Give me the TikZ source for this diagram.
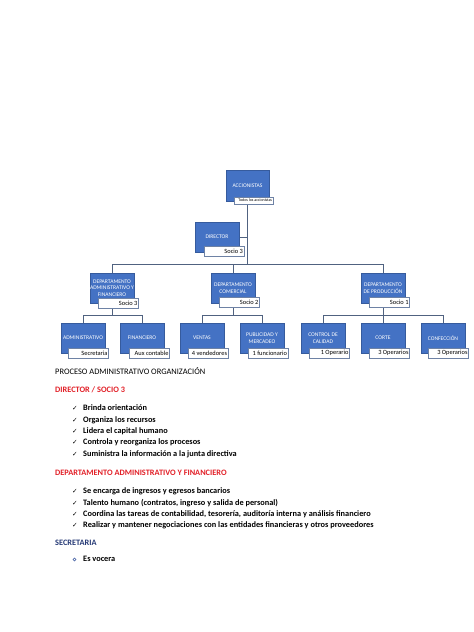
\documentclass[tikz,border=0pt]{standalone}
\usepackage{fontspec}
\setmainfont{Carlito}
\newfontfamily\dejavu{DejaVu Sans}
\usetikzlibrary{backgrounds}
\definecolor{boxblue}{RGB}{68,114,196}
\definecolor{linec}{RGB}{80,98,128}
\definecolor{lblborder}{RGB}{110,130,165}
\definecolor{hred}{RGB}{226,32,40}
\definecolor{hblue}{RGB}{38,58,118}
\definecolor{bulblue}{RGB}{60,90,160}
\newcommand{\bl}[1]{\makebox[42pt][c]{#1}}
\newcommand{\lb}[1]{\makebox[38pt][r]{#1}}
\begin{document}
\begin{tikzpicture}[x=1pt,y=-1pt,
  box/.style={fill=boxblue, draw=boxblue!80!black, line width=0.3pt,
    minimum width=44pt, minimum height=30pt, inner sep=0pt, text=white,
    font=\fontsize{5.6}{6.6}\selectfont, align=center},
  lbl/.style={fill=white, draw=lblborder, line width=0.4pt,
    minimum width=40pt, minimum height=10pt, inner sep=1pt,
    font=\fontsize{6.4}{7}\selectfont},
  conn/.style={draw=linec, line width=0.9pt},
  txt/.style={anchor=base west, inner sep=0pt, font=\fontsize{8.4}{10}\selectfont},
  item/.style={anchor=base west, inner sep=0pt, font=\fontsize{8.3}{10}\selectfont\bfseries},
  chk/.style={anchor=base west, inner sep=0pt, font=\dejavu\fontsize{6.6}{7}\selectfont},
  redh/.style={anchor=base west, inner sep=0pt, text=hred, font=\fontsize{8.3}{10}\selectfont\bfseries},
  blueh/.style={anchor=base west, inner sep=0pt, text=hblue, font=\fontsize{8.3}{10}\selectfont\bfseries}
]
\useasboundingbox (0,0) rectangle (474,632);

% top level
\node[box, minimum width=43pt, minimum height=31pt] (acc) at (247.5,185.5) {\bl{ACCIONISTAS}};
\node[lbl, minimum width=39pt, minimum height=7pt, font=\fontsize{4}{4.2}\selectfont, inner sep=1pt] (accl) at (253.5,200.5) {\makebox[37pt][r]{Todos los accionistas}};

\node[box] (dir) at (217,237) {\bl{DIRECTOR}};
\node[lbl] (dirl) at (224,251) {\lb{Socio 3}};

% departments
\node[box] (d1) at (112,288) {\bl{DEPARTAMENTO}\\\bl{ADMINISTRATIVO Y}\\\bl{FINANCIERO}};
\node[lbl] (d1l) at (118.5,303) {\lb{Socio 3}};
\node[box] (d2) at (233,288) {\bl{DEPARTAMENTO}\\\bl{COMERCIAL}};
\node[lbl] (d2l) at (239.5,302) {\lb{Socio 2}};
\node[box] (d3) at (383,288) {\bl{DEPARTAMENTO}\\\bl{DE PRODUCCIÓN}};
\node[lbl] (d3l) at (389.5,302) {\lb{Socio 1}};

% children
\node[box] (c1) at (83,338) {\bl{ADMINISTRATIVO}};
\node[lbl] (c1l) at (88.5,353) {\lb{Secretaria}};
\node[box] (c2) at (142,338) {\bl{FINANCIERO}};
\node[lbl] (c2l) at (149.5,353) {\lb{Aux contable}};
\node[box] (c3) at (202,338) {\bl{VENTAS}};
\node[lbl] (c3l) at (208,353) {\lb{4 vendedores}};
\node[box] (c4) at (262,338) {\bl{PUBLICIDAD Y}\\\bl{MERCADEO}};
\node[lbl] (c4l) at (268,353) {\lb{1 funcionario}};
\node[box] (c5) at (323,338) {\bl{CONTROL DE}\\\bl{CALIDAD}};
\node[lbl] (c5l) at (329.5,353) {\lb{1 Operario}};
\node[box] (c6) at (383,338) {\bl{CORTE}};
\node[lbl] (c6l) at (389.5,353) {\lb{3 Operarios}};
\node[box] (c7) at (443,338) {\bl{CONFECCIÓN}};
\node[lbl] (c7l) at (448.5,353) {\lb{3 Operarios}};

\coordinate (busM) at (247.5,264);
\coordinate (s1) at (112,315);
\coordinate (s2) at (233,315);
\coordinate (s3) at (383,315);

\begin{scope}[on background layer]
  \fill[white] (0,0) rectangle (474,632);
  \draw[conn] (acc.south) -- (busM);
  \draw[conn] (dir.east) -- (dir.east -| acc.south);
  \draw[conn] (d1.north |- busM) -- (d3.north |- busM);
  \draw[conn] (d1.north |- busM) -- (d1.north);
  \draw[conn] (d2.north |- busM) -- (d2.north);
  \draw[conn] (d3.north |- busM) -- (d3.north);
  \draw[conn] (d1.south) -- (s1);
  \draw[conn] (d2.south) -- (s2);
  \draw[conn] (d3.south) -- (s3);
  \draw[conn] (c1.north |- s1) -- (c2.north |- s1);
  \draw[conn] (c3.north |- s2) -- (c4.north |- s2);
  \draw[conn] (c5.north |- s3) -- (c7.north |- s3);
  \foreach \c/\s in {c1/s1,c2/s1,c3/s2,c4/s2,c5/s3,c6/s3,c7/s3}
    \draw[conn] (\c.north |- \s) -- (\c.north);
\end{scope}

% text section
\node[txt] (t0) at (55,374.5) {PROCESO ADMINISTRATIVO ORGANIZACIÓN};
\node[redh] (h1) at (55,392.5) {DIRECTOR / SOCIO 3};
\foreach \y/\t [count=\i] in {410.5/Brinda orientación, 422/Organiza los recursos, 433.5/Lidera el capital humano, 444.8/Controla y reorganiza los procesos, 456.2/Suministra la información a la junta directiva}{
  \node[chk] (ka\i) at (72,\y) {✓};
  \node[item] (ia\i) at (83,\y) {\t};
}
\node[redh] (h2) at (55,475.5) {DEPARTAMENTO ADMINISTRATIVO Y FINANCIERO};
\foreach \y/\t [count=\i] in {493.5/Se encarga de ingresos y egresos bancarios, 505/{Talento humano (contratos, ingreso y salida de personal)}, 516.3/{Coordina las tareas de contabilidad, tesorería, auditoría interna y análisis financiero}, 527.6/Realizar y mantener negociaciones con las entidades financieras y otros proveedores}{
  \node[chk] (kb\i) at (72,\y) {✓};
  \node[item] (ib\i) at (83,\y) {\t};
}
\node[blueh] (h3) at (55,545.5) {SECRETARIA};
\node[draw=bulblue, line width=0.6pt, circle, inner sep=0pt, minimum size=3pt] (bc) at (74.5,559.5) {};
\node[item] (ic1) at (83,561.8) {Es vocera};
\end{tikzpicture}
\end{document}
